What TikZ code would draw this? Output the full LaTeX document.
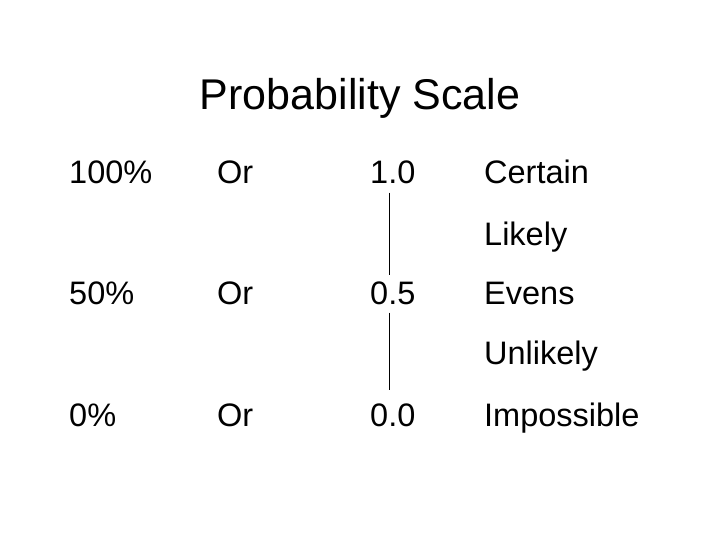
\documentclass[tikz,border=0pt]{standalone}
\usepackage{fontspec}
\setmainfont{Liberation Sans}

\begin{document}
\begin{tikzpicture}[x=1pt,y=-1pt,every node/.style={inner sep=0pt,anchor=base west,font=\fontsize{32.5}{36}\selectfont},title/.style={anchor=base,font=\fontsize{43}{48}\selectfont},scaleline/.style={draw,line width=0.8pt}]
\useasboundingbox (0,0) rectangle (720,540);
\node [title] (head) at (360,110) {Probability Scale};
% top row
\node (pcttop) at (69,184) {100\%};
\node (ortop) at (217,184) {Or};
\node (numtop) at (370,184) {1.0};
\node (wordtop) at (484,184) {Certain};
\node (likely) at (484,245) {Likely};
% middle row
\node (pctmid) at (69,304) {50\%};
\node (ormid) at (217,304) {Or};
\node (nummid) at (370,304) {0.5};
\node (wordmid) at (484,304) {Evens};
\node (unlikely) at (484,364) {Unlikely};
% bottom row
\node (pctbot) at (69,426) {0\%};
\node (orbot) at (217,426) {Or};
\node (numbot) at (370,426) {0.0};
\node (wordbot) at (484,426) {Impossible};
\draw [scaleline,shorten <=8pt,shorten >=6pt] ([xshift=-3pt]numtop.south) -- ([xshift=-3pt]nummid.north);
\draw [scaleline,shorten <=8pt,shorten >=13pt] ([xshift=-3pt]nummid.south) -- ([xshift=-3pt]numbot.north);
\end{tikzpicture}
\end{document}
